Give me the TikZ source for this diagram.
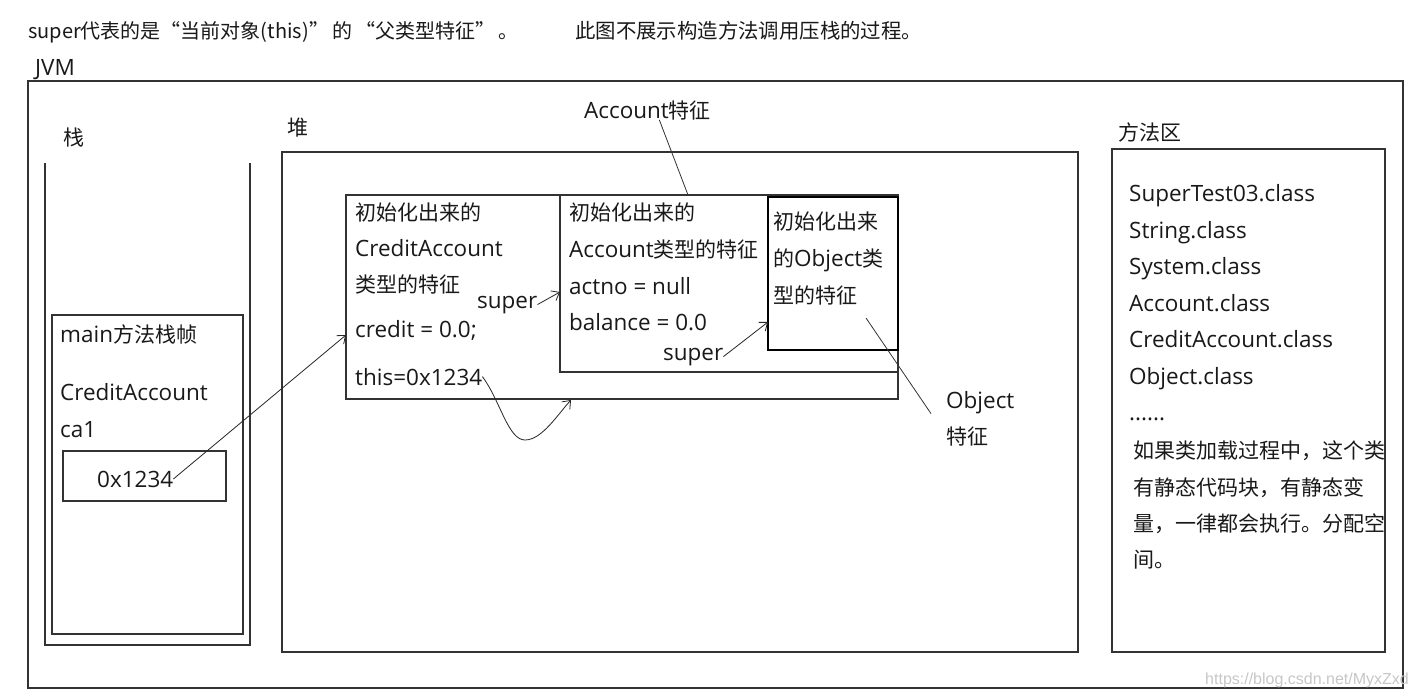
\documentclass[tikz,border=0pt]{standalone}
\usepackage{fontspec}
\setmainfont{Open Sans}[Scale=1.07]
\newfontfamily\cjk{Noto Sans CJK SC}
\newfontfamily\wmfont{Liberation Sans}
\usetikzlibrary{arrows.meta}

\begin{document}
\begin{tikzpicture}[
      x=1pt, y=-1pt,
      region/.style={
         rectangle,
         anchor=north west,
         inner sep=0pt, outer sep=0pt,
         draw=black!80,
         line width=1.3pt
      },
      wall/.style={draw=black!80, line width=1.3pt},
      txt/.style={
         anchor=base west,
         inner sep=0pt,
         font=\fontsize{21}{24}\selectfont,
         text=black!90
      },
      han/.style={txt, font=\cjk\fontsize{21}{24}\selectfont},
      link/.style={->, line width=0.8pt, draw=black!85},
      lead/.style={line width=0.8pt, draw=black!80},
      >={Straight Barb[length=7pt,width=11pt]}
    ]
    \useasboundingbox[fill=white] (0,0) rectangle (1414,696);
    % areas
    \node (jvm) [region, minimum width=1375pt, minimum height=607pt] at (28,81) {};
    \node (heap) [region, minimum width=796pt, minimum height=500pt] at (282,152) {};
    \node (caBox) [region, minimum width=552pt, minimum height=204pt] at (346,195) {};
    \node (accBox) [region, minimum width=338pt, minimum height=177pt] at (560,195) {};
    \node (objBox) [region, line width=1.9pt, draw=black, minimum width=130pt, minimum height=153pt] at (768,197) {};
    \node (frame) [region, minimum width=191pt, minimum height=319pt] at (52,315) {};
    \node (slot) [region, minimum width=163pt, minimum height=50pt] at (63,451) {};
    \node (meth) [region, minimum width=273pt, minimum height=503pt] at (1112,149) {};
    \draw[wall] (45,163) |- (250,645) -- (250,163);
    % titles
    \node (cap1) [han, font=\cjk\fontsize{20}{24}\selectfont] at (28,38) {super代表的是“当前对象(this)”\,的\,“父类型特征”\,。};
    \node (cap2) [han, font=\cjk\fontsize{20.4}{24}\selectfont] at (575,38) {此图不展示构造方法调用压栈的过程。};
    \node (jvmLbl) [txt] at (35,75) {JVM};
    \node (stkLbl) [han] at (63,145) {栈};
    \node (heapLbl) [han] at (287,135) {堆};
    \node (accLbl) [txt] at (584,118) {Account{\cjk 特征}};
    \node (methLbl) [han] at (1118,140) {方法区};
    % stack frame
    \node (frameLbl) [txt] at (60,342) {main{\cjk 方法栈帧}};
    \node (varType) [txt] at (60,400) {CreditAccount};
    \node (varName) [txt] at (60,437) {ca1};
    \node (ptr) [txt] at (97,487) {0x1234};
    % heap object
    \node (ca1) [han] at (355,220) {初始化出来的};
    \node (ca2) [txt] at (355,256) {CreditAccount};
    \node (ca3) [han] at (355,292) {类型的特征};
    \node (ca4) [txt] at (355,337) {credit = 0.0;};
    \node (thisTxt) [txt] at (355,385) {this=0x1234};
    \node (acc1) [han] at (569,220) {初始化出来的};
    \node (acc2) [txt] at (569,257) {Account{\cjk 类型的特征}};
    \node (acc3) [txt] at (569,294) {actno = null};
    \node (acc4) [txt] at (569,330) {balance = 0.0};
    \node (obj1) [han] at (773,229) {初始化出来};
    \node (obj2) [txt] at (773,266) {{\cjk 的}Object{\cjk 类}};
    \node (obj3) [han] at (773,303) {型的特征};
    \node (sup1) [txt] at (477,308) {super};
    \node (sup2) [txt] at (663,360) {super};
    \node (objLbl) [txt] at (946,408) {Object};
    \node (objLbl2) [han] at (946,444) {特征};
    % method area
    \begin{scope}
      \clip (1112,149) rectangle (1385,652);
      \node (m1) [txt] at (1129,201) {SuperTest03.class};
      \node (m2) [txt] at (1129,238) {String.class};
      \node (m3) [txt] at (1129,274) {System.class};
      \node (m4) [txt] at (1129,311) {Account.class};
      \node (m5) [txt] at (1129,347) {CreditAccount.class};
      \node (m6) [txt] at (1129,384) {Object.class};
      \node (m7) [txt] at (1129,420) {......};
      \node (n1) [han] at (1133,458) {如果类加载过程中，这个类};
      \node (n2) [han] at (1133,495) {有静态代码块，有静态变};
      \node (n3) [han] at (1133,531) {量，一律都会执行。分配空};
      \node (n4) [han] at (1133,567) {间。};
    \end{scope}
    \begin{scope}
      \clip (1200,660) rectangle (1410,696);
      \node (wm) [txt, font=\wmfont\fontsize{16}{18}\selectfont, text=black!22] at (1205,684) {https://blog.csdn.net/MyxZxd};
    \end{scope}
    % connectors
    \coordinate (caIn) at (346,335);
    \coordinate (accIn) at (560,292);
    \coordinate (objIn) at (768,322);
    \coordinate (accTop) at (688,195);
    \coordinate (objPt) at (866,318);
    \coordinate (caTip) at (571,400);
    \draw[link] (ptr.east) -- (caIn);
    \draw[link] (sup1.east) -- (accIn);
    \draw[link] (sup2.east) -- (objIn);
    \draw[link] (thisTxt.east) .. controls (500,400) and (508,440) .. (525,440)
                .. controls (542,440) and (558,414) .. (caTip);
    \draw[lead] (accLbl.320) -- (accTop);
    \draw[lead] (objPt) -- ([xshift=-15pt]objLbl.south west);
\end{tikzpicture}
\end{document}
